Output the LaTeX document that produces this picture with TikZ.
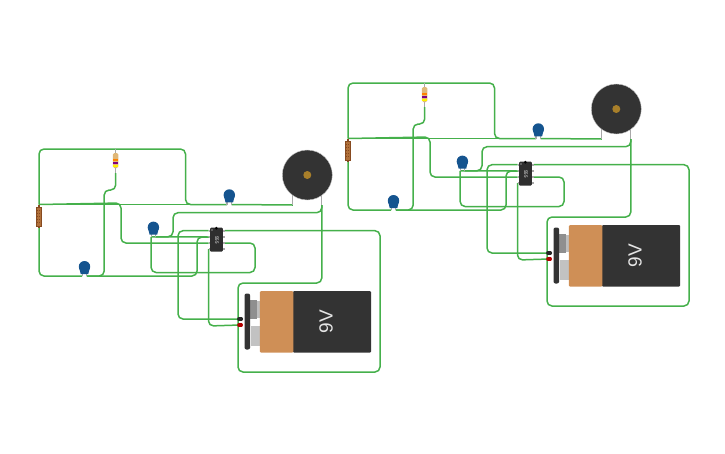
\documentclass[tikz,border=0pt]{standalone}
\usepackage{fontspec}
\setmainfont{Liberation Sans}
\usetikzlibrary{backgrounds}
\definecolor{wiregreen}{HTML}{45B04B}
\definecolor{capblue}{HTML}{15548F}
\definecolor{bodydark}{HTML}{333333}
\definecolor{cellorange}{HTML}{CF8F56}
\definecolor{pingrey}{HTML}{A8A8A8}
\definecolor{dotgold}{HTML}{A87F2A}
\definecolor{restan}{HTML}{E0B878}
\definecolor{resbrown}{HTML}{B0703A}
\definecolor{resdark}{HTML}{874A20}
\tikzset{
	wire/.style={draw=wiregreen, line width=1.5pt, rounded corners=5pt},
	lead/.style={draw=pingrey, line width=1.2pt},
	capnode/.style={circle, fill=capblue, minimum size=11.4pt, inner sep=0pt},
	buzzernode/.style={circle, fill=bodydark, draw=pingrey!60, line width=0.4pt, minimum size=50pt, inner sep=0pt},
	chipnode/.style={rectangle, rounded corners=1pt, fill=black!82, minimum width=12.7pt, minimum height=24pt, inner sep=0pt},
	block/.style={rectangle, inner sep=0pt, anchor=north west},
}
\begin{document}
\begin{tikzpicture}[x=1pt,y=-1pt]
	\useasboundingbox (0,0) rectangle (725,453);
	\foreach \c/\dx/\dy in {L/0/0, R/309/-66} {
	\begin{scope}[shift={(\dx,\dy)}]
		% capacitors
		\foreach \n/\x/\y in {A/229.3/196, B/153.4/228.3, C/84.5/267.7} {
			\coordinate (cap\n a\c) at (\x-2.3,\y+8.5);
			\coordinate (cap\n b\c) at (\x+2.3,\y+8.5);
			\draw [lead] (\x-2.3,\y+5) -- (cap\n a\c);
			\draw [lead] (\x+2.3,\y+5) -- (cap\n b\c);
			\fill [capblue] (\x-5.4,\y-0.5) -- (\x+5.4,\y-0.5) -- (\x+3.8,\y+6.4) -- (\x-3.8,\y+6.4) -- cycle;
			\node [capnode] (cap\n\c) at (\x,\y-1) {};
		}
		
		% buzzer
		\coordinate (buzza\c) at (292.8,205);
		\coordinate (buzzb\c) at (321.8,205);
		\draw [lead] (292.8,195) -- (buzza\c);
		\draw [lead] (321.8,195) -- (buzzb\c);
		\node [buzzernode] (buzz\c) at (307.3,175) {};
		\fill [dotgold] (buzz\c.center) circle (4);
		
		% chip pins
		\foreach \n/\y in {1/230.7, 2/237, 3/243, 4/249} {
			\coordinate (chipl\n\c) at (208.5,\y);
			\coordinate (chipr\n\c) at (224.8,\y);
			\draw [lead, line width=1.6pt] (chipl\n\c) -- (chipr\n\c);
		}
		\node [chipnode] (chip\c) at (216.4,239.7) {};
		\node [rotate=-90, text=white, font=\fontsize{4.5}{5}\selectfont, inner sep=0pt] (chiptext\c) at (216.8,240) {555};
		\fill [white] (212,230) circle (0.7);
		\fill [black] (216.4,228.2) circle (1.5);
		
		% top resistor
		\coordinate (resat\c) at (115.7,149);
		\coordinate (resab\c) at (115.7,173);
		\draw [lead] (resat\c) -- (resab\c);
		\node [rectangle, rounded corners=1.5pt, fill=restan, minimum width=5.5pt, minimum height=15pt, inner sep=0pt] (resa\c) at (115.7,160.5) {};
		\fill [orange] (113,159.3) rectangle (118.4,160.8);
		\fill [violet] (113,162) rectangle (118.4,163.6);
		\fill [yellow] (113,165) rectangle (118.4,167);
		
		% side resistor
		\coordinate (resbt\c) at (39,204.5);
		\coordinate (resbb\c) at (39,228);
		\draw [resdark, line width=1.2pt] (resbt\c) -- (resbb\c);
		\node [rectangle, fill=resbrown, draw=resdark, line width=0.5pt, minimum width=5.2pt, minimum height=19pt, inner sep=0pt] (resb\c) at (39,216.5) {};
		\foreach \y in {210,213,216,219,222} {
			\draw [resdark, line width=0.6pt, dash pattern=on 1pt off 1pt] (37,\y) -- (41,\y);
		}
		
		% battery
		\coordinate (batn\c) at (240,319);
		\coordinate (batp\c) at (240,325);
		\node [block, fill=pingrey!85!black, minimum width=7pt, minimum height=19pt] (terma\c) at (250,300) {};
		\node [block, fill=pingrey!75!white, minimum width=3pt, minimum height=17pt] (termc\c) at (256.7,301) {};
		\node [block, fill=pingrey!70!white, minimum width=8.5pt, minimum height=20pt] (termb\c) at (251,326) {};
		\node [block, fill=bodydark, rounded corners=2pt, minimum width=5.6pt, minimum height=56pt] (clip\c) at (244.3,293.3) {};
		\node [block, fill=bodydark, rounded corners=1pt, minimum width=78.3pt, minimum height=61.3pt] (cell\c) at (292.7,291) {};
		\node [block, fill=cellorange, rounded corners=1pt, minimum width=33.4pt, minimum height=61.3pt] (cellend\c) at (259.7,291) {};
		\node [rotate=90, text=black!10, font=\fontsize{19}{20}\selectfont, inner sep=0pt] (volt\c) at (326,321.7) {9V};
		\draw [black!85, line width=3.4pt, line cap=round] (238.8,319) -- (241.4,319);
		\draw [red!70!black, line width=3.2pt, line cap=round] (238.8,325) -- (241.4,325);
		
		\begin{pgfonlayer}{background}
			% wires
			\draw [wire] (resbt\c) -- (39,149) -- (185.5,149) -- (185.5,204.5) -- (capAa\c);
			\draw [wire] (resbt\c) -- (capAa\c);
			\draw [wire] (capAb\c) -- (buzza\c);
			\draw [wire] (resbt\c) -- (121,203) -- (121,243) -- (chipl3\c);
			\draw [wire] (chipr3\c) -- (255,243) -- (255,272.5) -- (151.1,272.5) -- (capBa\c);
			\draw [wire] (capBa\c) -- (chipl2\c);
			\draw [wire] (buzzb\c) -- (321.8,212.7) -- (173,212.7) -- (173,236.8) -- (capBb\c);
			\draw [wire] (buzzb\c) -- (321.8,283) -- (238,283) -- (238,372) -- (380,372) -- (380,230.7) -- (chipr1\c);
			\draw [wire] (chipl1\c) -- (178,230.7) -- (178,319) -- (batn\c);
			\draw [wire] (chipl4\c) -- (208.5,326) -- (batp\c);
			\draw [wire] (resbb\c) -- (39,276) -- (capCa\c);
			\draw [wire] (capCb\c) -- (197,276) -- (197,237) -- (chipl2\c);
			\draw [wire] (resab\c) -- (115.7,190) -- (104.2,190) -- (104.2,276) -- (capCb\c);
		\end{pgfonlayer}
	\end{scope}
	}
\end{tikzpicture}
\end{document}
